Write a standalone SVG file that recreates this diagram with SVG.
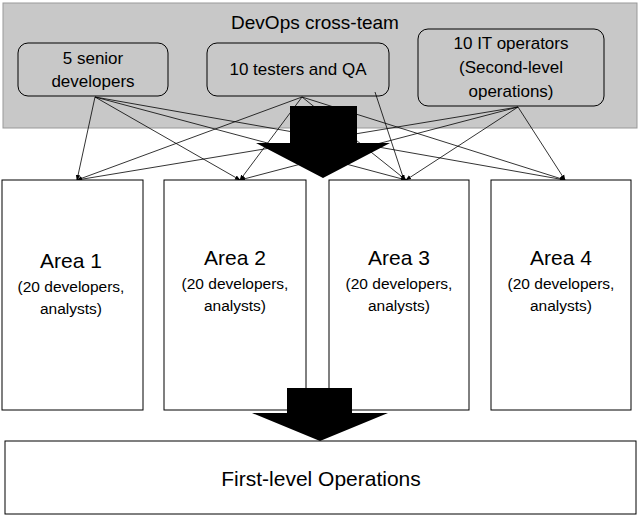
<svg xmlns="http://www.w3.org/2000/svg" width="641" height="515" viewBox="0 0 641 515">
<defs><marker id="a" viewBox="0 0 10 10" refX="9" refY="5" markerWidth="7" markerHeight="7" orient="auto"><path d="M0,1 L10,5 L0,9 z" fill="#000"/></marker>
<style>text{font-family:"Liberation Sans",sans-serif;text-anchor:middle;fill:#000}.t{font-size:17px}.s{font-size:15.5px}.h{font-size:21px}.b{fill:#fff;stroke:#000;stroke-width:1}.r{fill:#c8c8c8;stroke:#000;stroke-width:1}line{stroke:#000;stroke-width:0.8;marker-end:url(#a)}</style></defs>
<rect width="641" height="515" fill="#fff"/>
<rect x="3" y="3" width="634" height="125" fill="#c8c8c8" stroke="#999"/>
<text x="315" y="29" class="t" style="font-size:19px">DevOps cross-team</text>
<g id="n1"><rect class="r" x="18" y="43" width="150" height="53" rx="10"/><text x="93" y="64" class="t">5 senior</text><text x="93" y="87" class="t">developers</text></g>
<g id="n2"><rect class="r" x="207" y="43" width="182" height="53" rx="10"/><text x="298" y="75" class="t">10 testers and QA</text></g>
<g id="n3"><rect class="r" x="418" y="29" width="186" height="77" rx="10"/><text x="511" y="49" class="t">10 IT operators</text><text x="511" y="73" class="t">(Second-level</text><text x="511" y="97" class="t">operations)</text></g>
<g id="c">
<line x1="95" y1="97" x2="77" y2="180"/><line x1="95" y1="97" x2="240" y2="180"/><line x1="95" y1="97" x2="406" y2="180"/><line x1="95" y1="97" x2="565" y2="180"/>
<line x1="302" y1="97" x2="77" y2="180"/><line x1="302" y1="97" x2="240" y2="180"/><line x1="302" y1="97" x2="406" y2="180"/><line x1="302" y1="97" x2="565" y2="180"/>
<line x1="375" y1="92" x2="404" y2="180"/>
<line x1="518" y1="107" x2="77" y2="180"/><line x1="518" y1="107" x2="240" y2="180"/><line x1="518" y1="107" x2="406" y2="180"/><line x1="518" y1="107" x2="565" y2="180"/>
</g>
<path d="M290,106 H357 V143 H390 L323,178 L256,143 H290 Z" fill="#000"/>
<g id="a1"><rect class="b" x="2" y="180" width="141" height="230"/><text x="71" y="268" class="h">Area 1</text><text x="71" y="292" class="s">(20 developers,</text><text x="71" y="314" class="s">analysts)</text></g>
<g id="a2"><rect class="b" x="164" y="180" width="142" height="230"/><text x="235" y="265" class="h">Area 2</text><text x="235" y="289" class="s">(20 developers,</text><text x="235" y="311" class="s">analysts)</text></g>
<g id="a3"><rect class="b" x="329" y="180" width="140" height="230"/><text x="399" y="265" class="h">Area 3</text><text x="399" y="289" class="s">(20 developers,</text><text x="399" y="311" class="s">analysts)</text></g>
<g id="a4"><rect class="b" x="491" y="180" width="140" height="230"/><text x="561" y="265" class="h">Area 4</text><text x="561" y="289" class="s">(20 developers,</text><text x="561" y="311" class="s">analysts)</text></g>
<path d="M287,388 H352 V413 H388 L320,441 L252,413 H287 Z" fill="#000"/>
<g id="f"><rect class="b" x="5" y="441" width="631" height="73"/><text x="321" y="486" class="h">First-level Operations</text></g>
</svg>
